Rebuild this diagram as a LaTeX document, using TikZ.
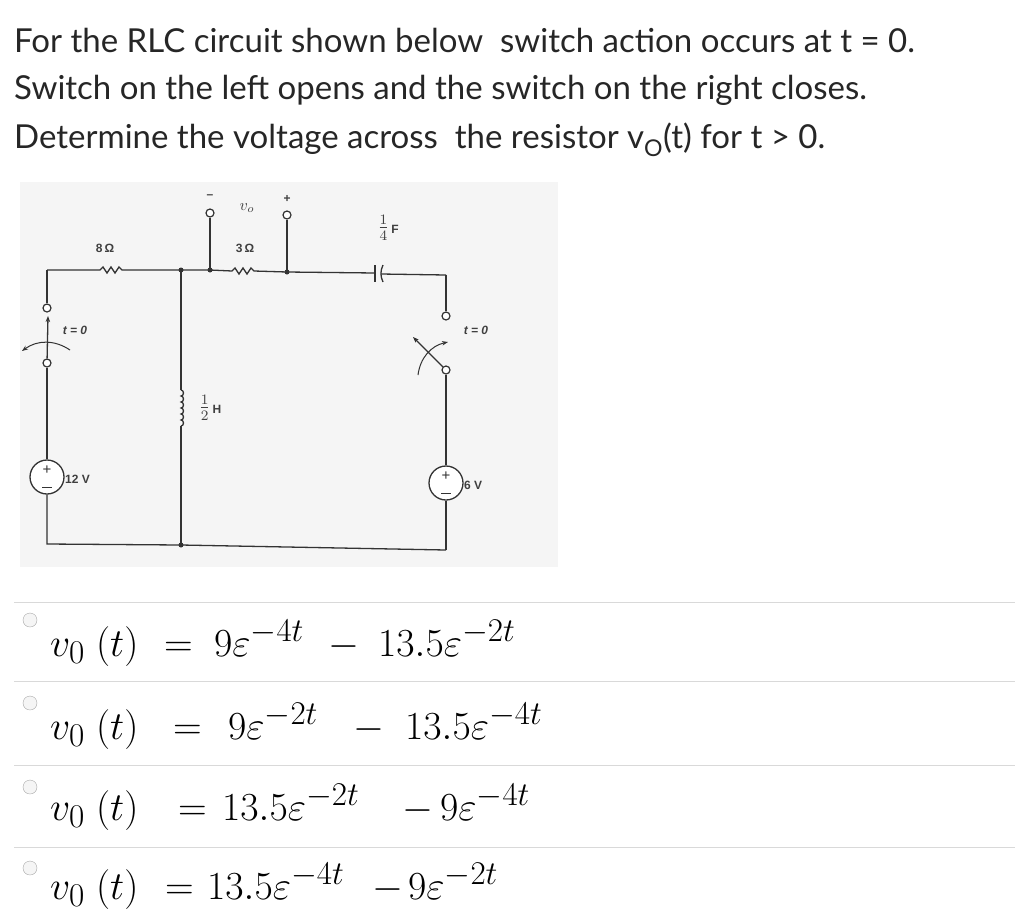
\documentclass[tikz,border=0pt]{standalone}
\usepackage{fontspec}
\setmainfont{Lato}
\setsansfont{Liberation Sans}
\usepackage{amsmath}
\usepackage{graphicx}
\usetikzlibrary{arrows.meta}
\newcommand{\bigeq}[1]{\scalebox{1.6}{\fontsize{24.88}{26}\selectfont #1}}
\begin{document}
\begin{tikzpicture}[x=1pt,y=-1pt,
  wire/.style={draw=black!80,line width=1.3pt},
  term/.style={circle,draw=black!80,line width=1.2pt,fill=white,inner sep=0pt,minimum size=8pt},
  dotn/.style={circle,fill=black!80,inner sep=0pt,minimum size=5pt},
  lbl/.style={font=\sffamily\fontsize{12}{13}\selectfont\bfseries,text=black!75,inner sep=1pt},
  head/.style={anchor=west,font=\fontsize{33}{36}\selectfont,text=black!85,inner sep=0pt},
  eq/.style={anchor=base west,inner sep=0pt},
  radio/.style={circle,draw=black!35,fill=black!4,inner sep=0pt,minimum size=14pt},
  sep/.style={draw=black!15,line width=0.8pt}]
\useasboundingbox (0,0) rectangle (1024,918);
% header
\node[head] (h1) at (14,40) {For the RLC circuit shown below\ \ switch action occurs at t = 0.};
\node[head] (h2) at (14,90) {Switch on the left opens and the switch on the right closes.};
\node[head] (h3) at (14,140) {Determine the voltage across\ \ the resistor v\textsubscript{O}(t) for t > 0.};
% background
\fill[black!4] (20,182) rectangle (558,567);
% coordinates
\coordinate (tl) at (47,270);
\coordinate (jL) at (181,270);
\coordinate (jm) at (210,270);
\coordinate (jp) at (287,272);
\coordinate (tr) at (446,275);
\coordinate (bl) at (47,544);
\coordinate (bm) at (181,545);
\coordinate (br) at (446,550);
% top wire with resistors
\draw[wire] (tl) -- (100,270) -- ++(3,-3) -- ++(4,6) -- ++(4,-6) -- ++(4,6) -- ++(4,-6) -- ++(3,3) -- (jL) -- (jm) -- (232,271)
 -- ++(3,-3) -- ++(4,6) -- ++(4,-6) -- ++(4,6) -- ++(4,-6) -- ++(3,3) -- (jp) -- (375,273);
\draw[wire] (375,265) -- (375,282);
\draw[wire] (383,265) to[bend right=25] (383,282);
\draw[wire] (381,274) -- (tr);
\node[lbl] (r8) at (105,248) {8\,Ω};
\node[lbl] (r3) at (245,248) {3\,Ω};
\node[lbl] (cap) at (388,228) {\scalebox{1.8}{$\frac{1}{4}$}\,F};
% vo terminals
\node[term] (tm) at (210,213) {};
\node[term] (tp) at (287,215) {};
\draw[wire] (tm) -- (jm);
\draw[wire] (tp) -- (jp);
\node[lbl] (mi) at (210,197) {--};
\node[lbl] (pl) at (287,199) {+};
\node[text=black!75] (vo) at (247,208) {\scalebox{1.6}{$v_o$}};
\node[dotn] (d1) at (jL) {};
\node[dotn] (d2) at (jm) {};
\node[dotn] (d3) at (jp) {};
\node[dotn] (d4) at (bm) {};
% left switch
\node[term] (ls1) at (47,308) {};
\node[term] (ls2) at (47,363) {};
\draw[wire] (tl) -- (ls1);
\draw[wire,-{Stealth[length=6pt]}] (ls2) -- (48,316);
\draw[black!80,line width=1pt,-{Stealth[length=6pt]}] (70,350) to[bend right=35] (22,351);
\node[lbl] (lt) at (75,330) {\itshape t = 0};
% 12V
\node[circle,draw=black!80,line width=1.3pt,fill=white,minimum size=34pt,inner sep=0pt] (v12) at (47,477) {};
\node[font=\sffamily\fontsize{15}{15}\selectfont,text=black!80] at (47,470) {+};
\draw[black!80,line width=1pt] (42,487) -- (52,487);
\node[lbl,anchor=west] (l12) at (64,479) {12 V};
\draw[wire] (ls2) -- (v12);
\draw[wire] (v12) -- (bl) -- (bm) -- (br);
% inductor
\draw[wire] (jL) -- (181,390);
\draw[wire] (181,390) arc (-90:-270:-2.5 and 3) arc (-90:-270:-2.5 and 3) arc (-90:-270:-2.5 and 3) arc (-90:-270:-2.5 and 3) arc (-90:-270:-2.5 and 3) arc (-90:-270:-2.5 and 3);
\draw[wire] (181,426) -- (bm);
\node[lbl] (ind) at (210,408) {\scalebox{1.8}{$\frac{1}{2}$}\,H};
% right switch
\node[term] (rs1) at (446,316) {};
\node[term] (rs2) at (446,370) {};
\draw[wire] (tr) -- (rs1);
\draw[wire,-{Stealth[length=6pt]}] (rs2) -- (413,337);
\draw[black!80,line width=1pt,-{Stealth[length=6pt]}] (418,375) to[bend left=35] (448,342);
\node[lbl] (rt) at (476,330) {\itshape t = 0};
% 6V
\node[circle,draw=black!80,line width=1.3pt,fill=white,minimum size=34pt,inner sep=0pt] (v6) at (446,483) {};
\node[font=\sffamily\fontsize{15}{15}\selectfont,text=black!80] at (446,476) {+};
\draw[black!80,line width=1pt] (441,493) -- (451,493);
\node[lbl,anchor=west] (l6) at (463,485) {6 V};
\draw[wire] (rs2) -- (v6);
\draw[wire] (v6) -- (br);
% separators
\draw[sep] (14,602) -- (1015,602);
\draw[sep] (14,681) -- (1015,681);
\draw[sep] (14,765) -- (1015,765);
\draw[sep] (14,847) -- (1015,847);
\node[radio] (o1) at (30,620) {};
\node[radio] (o2) at (30,703) {};
\node[radio] (o3) at (30,787) {};
\node[radio] (o4) at (30,868) {};
% options
\node[eq] (a1) at (50,656) {\bigeq{$v_{0}\;(t)$}};
\node[eq] (a2) at (164,656) {\bigeq{$=$}};
\node[eq] (a3) at (214,656) {\bigeq{$9\varepsilon^{-4t}$}};
\node[eq] (a4) at (328,656) {\bigeq{$-$}};
\node[eq] (a5) at (378,656) {\bigeq{$13.5\varepsilon^{-2t}$}};
\node[eq] (b1) at (50,739) {\bigeq{$v_{0}\;(t)$}};
\node[eq] (b2) at (173,739) {\bigeq{$=$}};
\node[eq] (b3) at (228,739) {\bigeq{$9\varepsilon^{-2t}$}};
\node[eq] (b4) at (353,739) {\bigeq{$-$}};
\node[eq] (b5) at (405,739) {\bigeq{$13.5\varepsilon^{-4t}$}};
\node[eq] (c1) at (50,820) {\bigeq{$v_{0}\;(t)$}};
\node[eq] (c2) at (178,820) {\bigeq{$=$}};
\node[eq] (c3) at (222,820) {\bigeq{$13.5\varepsilon^{-2t}$}};
\node[eq] (c4) at (402,820) {\bigeq{$-$}};
\node[eq] (c5) at (440,820) {\bigeq{$9\varepsilon^{-4t}$}};
\node[eq] (e1) at (50,899) {\bigeq{$v_{0}\;(t)$}};
\node[eq] (e2) at (165,899) {\bigeq{$=$}};
\node[eq] (e3) at (207,899) {\bigeq{$13.5\varepsilon^{-4t}$}};
\node[eq] (e4) at (372,899) {\bigeq{$-$}};
\node[eq] (e5) at (408,899) {\bigeq{$9\varepsilon^{-2t}$}};
\end{tikzpicture}
\end{document}
